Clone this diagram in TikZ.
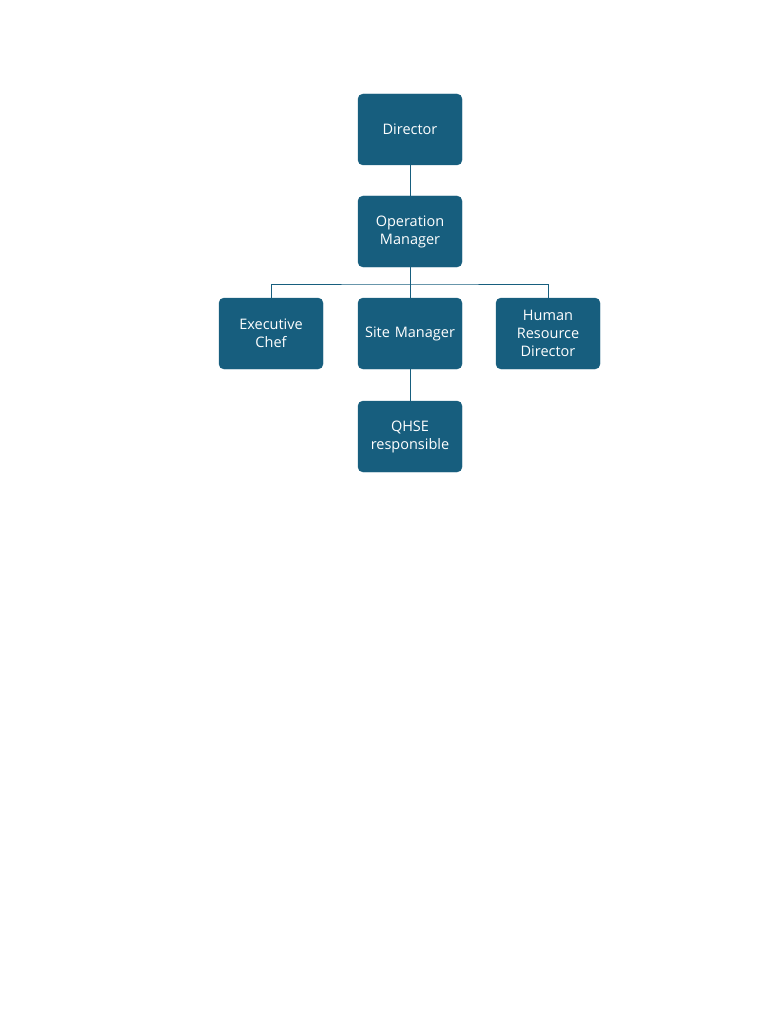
\documentclass[tikz,border=0pt]{standalone}
\usepackage{fontspec}
\setmainfont{Open Sans}
\definecolor{boxblue}{HTML}{175E7E}
\begin{document}
\begin{tikzpicture}[x=1pt,y=-1pt,
  orgbox/.style={draw=boxblue,fill=boxblue,rounded corners=5pt,minimum width=104pt,minimum height=71pt,inner sep=2pt,
    text=white,align=center,font=\fontsize{14.5}{18}\selectfont,text width=100pt},
  link/.style={draw=boxblue,line width=1pt}]
\useasboundingbox (0,0) rectangle (768,1024);
\node[orgbox] (dir) at (410,129.5) {Director};
\node[orgbox] (om) at (410,231.5) {Operation\\Manager};
\node[orgbox] (ec) at (271,333.5) {Executive\\Chef};
\node[orgbox] (sm) at (410,333.5) {Site Manager};
\node[orgbox] (hr) at (548,333.5) {Human\\Resource\\Director};
\node[orgbox] (qh) at (410,436.5) {QHSE\\responsible};
\coordinate (bar) at (410,284);
\draw[link] (dir.south) -- (om.north);
\draw[link] (om.south) -- (sm.north);
\draw[link] (ec.north) |- (bar) -| (hr.north);
\draw[link] (sm.south) -- (qh.north);
\end{tikzpicture}
\end{document}
